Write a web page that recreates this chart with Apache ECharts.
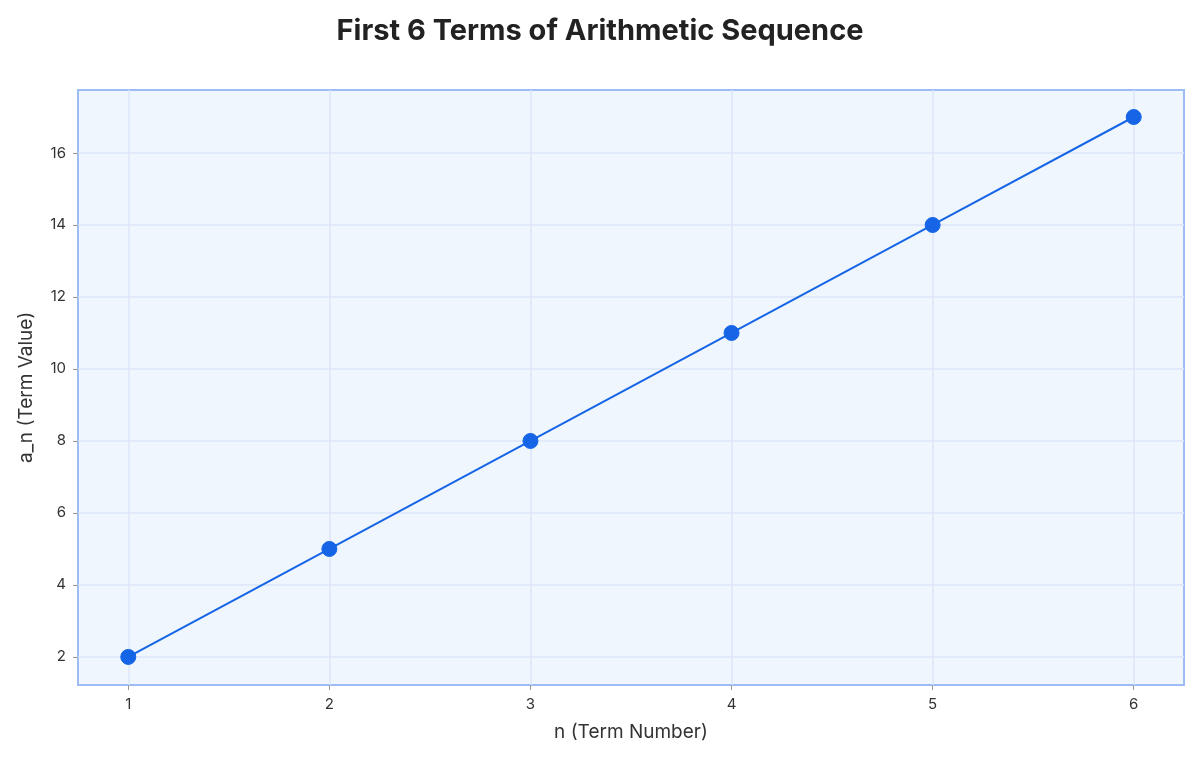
<!DOCTYPE html>
<html>
<head>
<meta charset="utf-8">
<script src="https://cdn.jsdelivr.net/npm/echarts@6/dist/echarts.min.js"></script>
<style>
  html, body { margin: 0; padding: 0; background: #fff; }
  #chart { width: 1200px; height: 761px; }
</style>
</head>
<body>
<div id="chart"></div>
<script>
const termNumbers = [1, 2, 3, 4, 5, 6];
const termValues = [2, 5, 8, 11, 14, 17];
const xTicks = [1, 2, 3, 4, 5, 6];
const yTicks = [2, 4, 6, 8, 10, 12, 14, 16];

const font = 'Inter, Lato, sans-serif';
const myChart = echarts.init(document.getElementById('chart'));

myChart.setOption({
  animation: false,
  title: {
    text: 'First 6 Terms of Arithmetic Sequence',
    left: 'center',
    top: 12,
    textStyle: { fontFamily: font, fontSize: 29, fontWeight: 'bold', color: '#222' }
  },
  grid: {
    left: 78, right: 16, top: 90, bottom: 76,
    show: true, backgroundColor: '#f0f6fd', borderColor: '#9dbcf5', borderWidth: 2
  },
  xAxis: {
    type: 'value', min: 0.75, max: 6.25,
    name: 'n (Term Number)', nameLocation: 'middle', nameGap: 38,
    nameTextStyle: { fontFamily: font, fontSize: 19, color: '#333' },
    axisLine: { show: false },
    axisTick: { show: true, customValues: xTicks, length: 5, lineStyle: { color: '#999' } },
    axisLabel: { customValues: xTicks, fontFamily: font, fontSize: 15, color: '#333', margin: 12 },
    splitLine: { show: true, lineStyle: { color: '#dde6f8', width: 1.5 } }
  },
  yAxis: {
    type: 'value', min: 1.22, max: 17.75,
    name: 'a_n (Term Value)', nameLocation: 'middle', nameGap: 42,
    nameTextStyle: { fontFamily: font, fontSize: 19, color: '#333' },
    axisLine: { show: false },
    axisTick: { show: true, customValues: yTicks, length: 5, lineStyle: { color: '#999' } },
    axisLabel: { customValues: yTicks, fontFamily: font, fontSize: 15, color: '#333', margin: 12 },
    splitLine: { show: true, lineStyle: { color: '#dde6f8', width: 1.5 } }
  },
  series: [{
    type: 'line',
    data: termNumbers.map((n, i) => [n, termValues[i]]),
    symbol: 'circle',
    symbolSize: 15,
    lineStyle: { color: '#1565e6', width: 2 },
    itemStyle: { color: '#1565e6', borderColor: '#1565e6' }
  }]
});
</script>
</body>
</html>
